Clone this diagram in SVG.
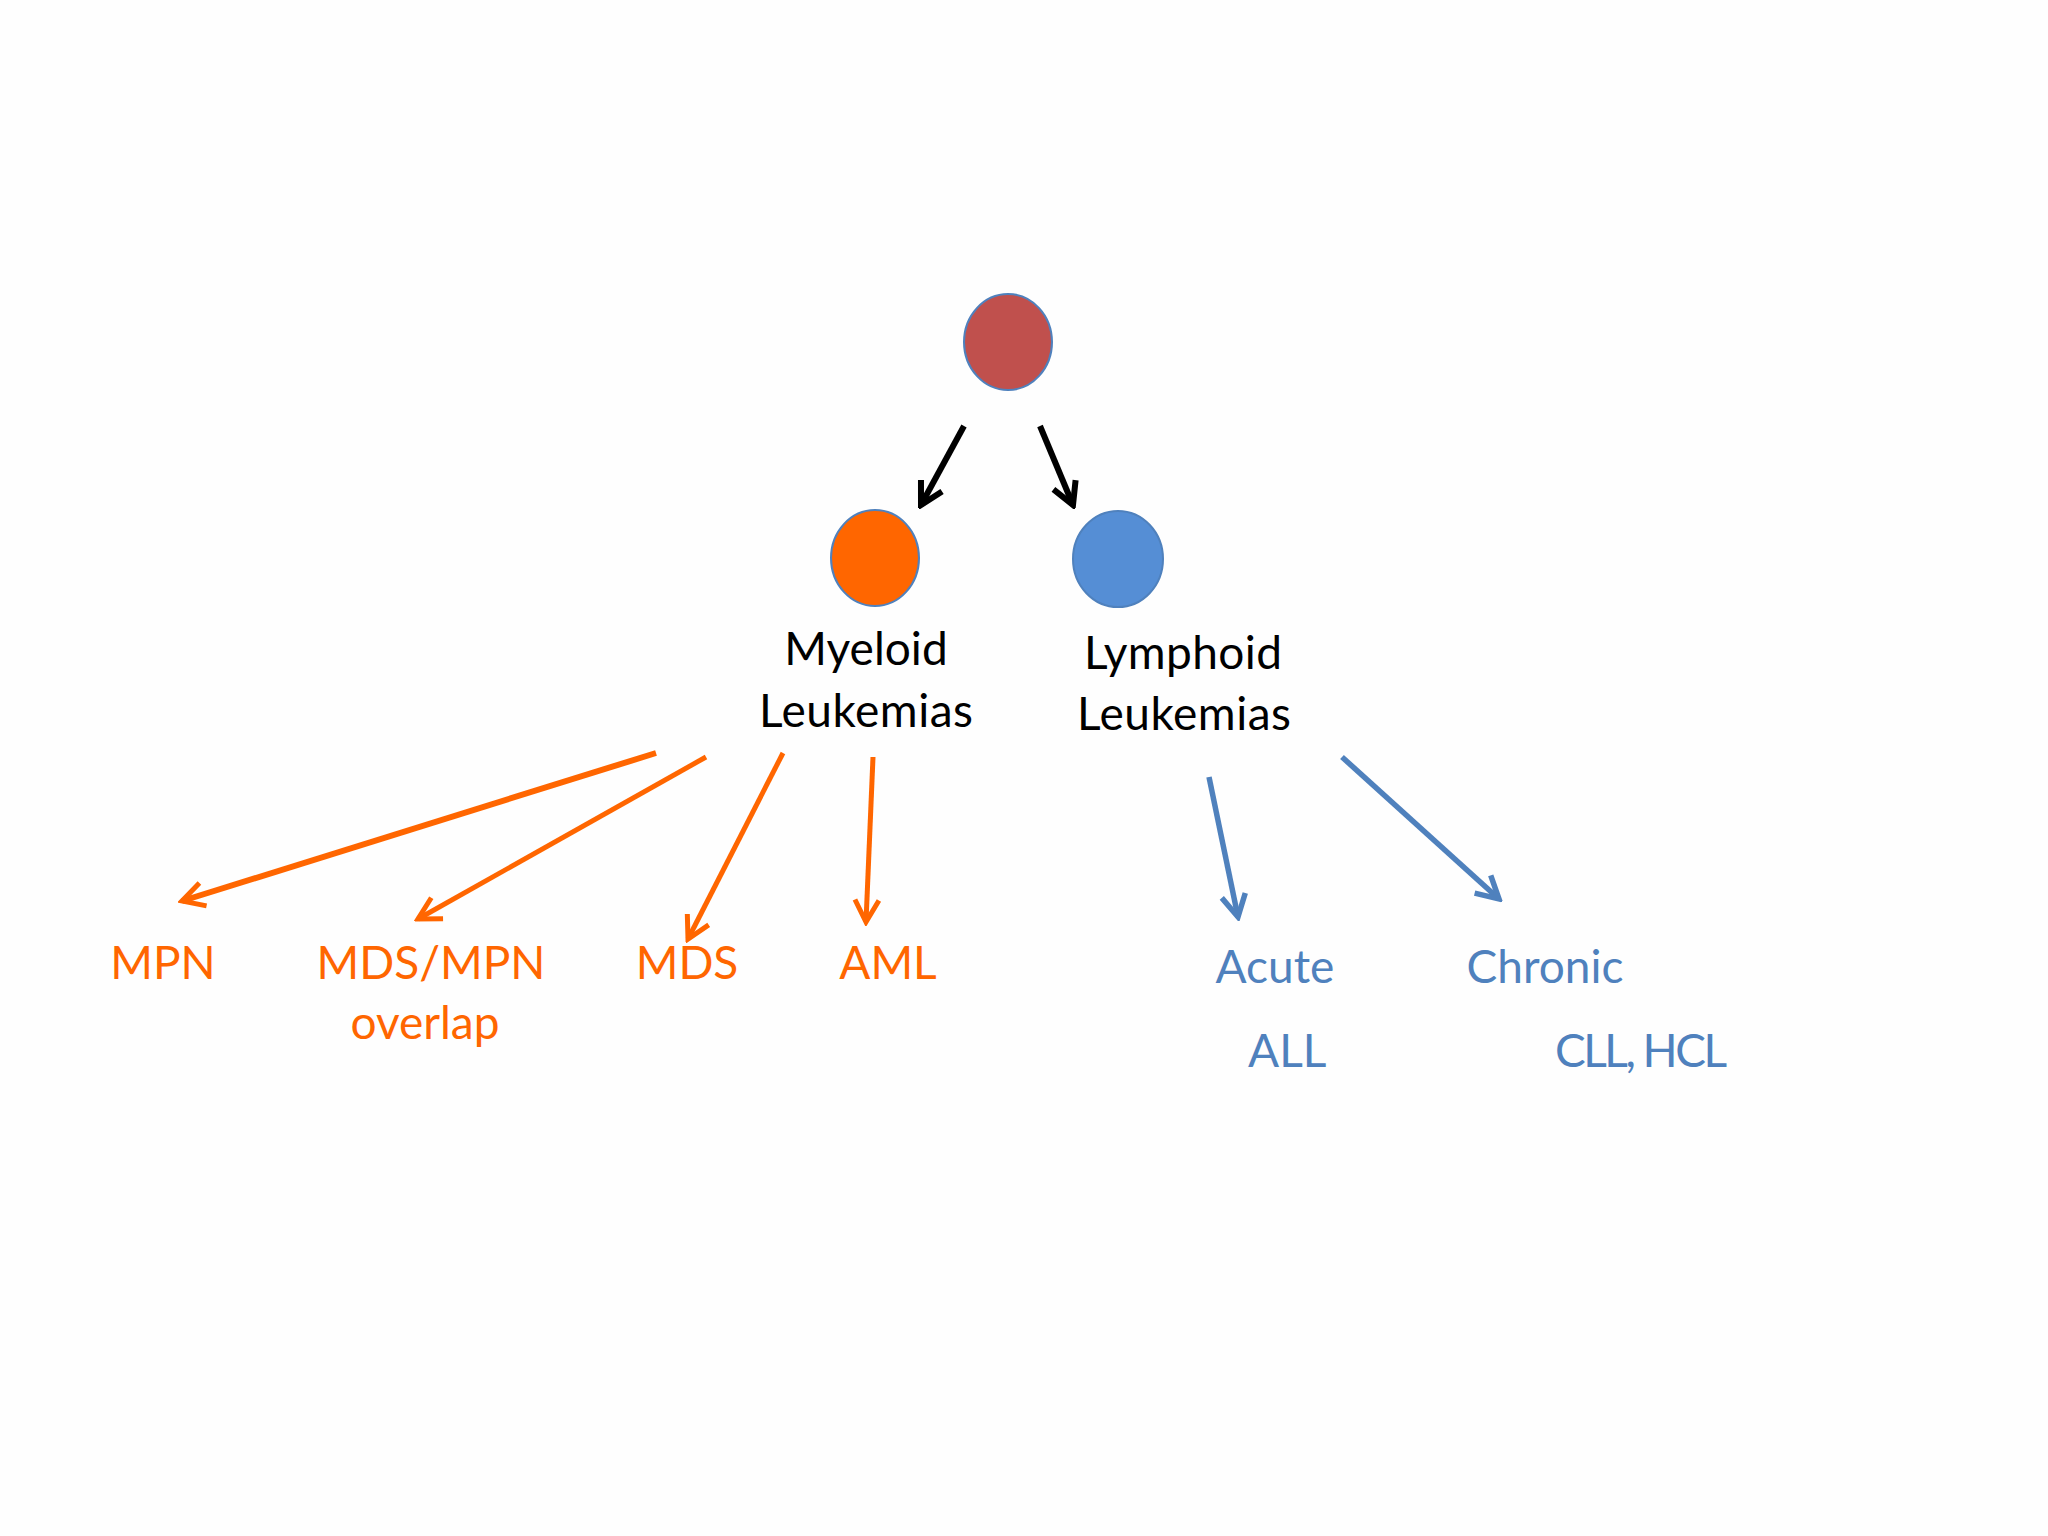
<svg xmlns="http://www.w3.org/2000/svg" width="2048" height="1536" viewBox="0 0 2048 1536">
<style>
.t{font-family:Lato,"Open Sans","Liberation Sans",sans-serif;font-size:46px;}
.blk{fill:#000;}
.org{fill:#FF6600;}
.blu{fill:#4F81BD;}
.cb{stroke:#000;stroke-width:6;fill:none;}
.co{stroke:#FF6600;stroke-width:5;fill:none;}
.cu{stroke:#4F81BD;stroke-width:5.5;fill:none;}
.node{stroke:#4F81BD;stroke-width:2;}
</style>
<defs>
<marker id="ab" markerUnits="userSpaceOnUse" viewBox="-30 -16 34 32" markerWidth="34" markerHeight="32" refX="0" refY="0" orient="auto">
<path d="M-22,-12 L0,0 L-22,12" fill="none" stroke="#000" stroke-width="6"/>
</marker>
<marker id="ao" markerUnits="userSpaceOnUse" viewBox="-30 -16 34 32" markerWidth="34" markerHeight="32" refX="0" refY="0" orient="auto">
<path d="M-22,-12 L0,0 L-22,12" fill="none" stroke="#FF6600" stroke-width="5"/>
</marker>
<marker id="au" markerUnits="userSpaceOnUse" viewBox="-30 -16 34 32" markerWidth="34" markerHeight="32" refX="0" refY="0" orient="auto">
<path d="M-22,-12 L0,0 L-22,12" fill="none" stroke="#4F81BD" stroke-width="5.5"/>
</marker>
</defs>
<rect width="2048" height="1536" fill="#FEFEFE"/>
<g id="connectors">
<line class="cb" x1="964" y1="426" x2="921" y2="505" marker-end="url(#ab)"/>
<line class="cb" x1="1040" y1="426" x2="1073" y2="505" marker-end="url(#ab)"/>
<line class="co" x1="656" y1="753" x2="182" y2="901" marker-end="url(#ao)" style="stroke-width:6"/>
<line class="co" x1="706" y1="757" x2="418" y2="919" marker-end="url(#ao)"/>
<line class="co" x1="783" y1="753" x2="688" y2="939" marker-end="url(#ao)"/>
<line class="co" x1="873" y1="757" x2="866" y2="922" marker-end="url(#ao)"/>
<line class="cu" x1="1209" y1="777" x2="1238" y2="917" marker-end="url(#au)"/>
<line class="cu" x1="1342" y1="757" x2="1499" y2="899" marker-end="url(#au)"/>
</g>
<g id="root"><ellipse class="node" cx="1008" cy="342" rx="44" ry="48" fill="#C0504D"/></g>
<g id="myeloid"><ellipse class="node" cx="875" cy="558" rx="44" ry="48" fill="#FF6600"/>
<text class="t blk" x="866" y="665" text-anchor="middle">Myeloid</text>
<text class="t blk" x="866" y="727" text-anchor="middle" textLength="214">Leukemias</text></g>
<g id="lymphoid"><ellipse class="node" cx="1118" cy="559" rx="45" ry="48" fill="#558ED5"/>
<text class="t blk" x="1183" y="669" text-anchor="middle" textLength="198">Lymphoid</text>
<text class="t blk" x="1184" y="730" text-anchor="middle" textLength="214">Leukemias</text></g>
<g id="mpn"><text class="t org" x="163" y="979" text-anchor="middle">MPN</text></g>
<g id="mdsmpn"><text class="t org" x="431" y="979" text-anchor="middle">MDS/MPN</text>
<text class="t org" x="425" y="1039" text-anchor="middle">overlap</text></g>
<g id="mds"><text class="t org" x="687" y="979" text-anchor="middle">MDS</text></g>
<g id="aml"><text class="t org" x="888" y="979" text-anchor="middle">AML</text></g>
<g id="acute"><text class="t blu" x="1275" y="983" text-anchor="middle">Acute</text>
<text class="t blu" x="1248" y="1067">ALL</text></g>
<g id="chronic"><text class="t blu" x="1545" y="983" text-anchor="middle">Chronic</text>
<text class="t blu" x="1555" y="1067" textLength="172">CLL, HCL</text></g>
</svg>
